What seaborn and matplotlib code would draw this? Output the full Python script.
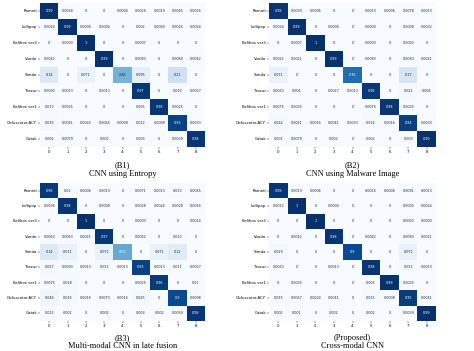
import numpy as np
import matplotlib
matplotlib.use("Agg")
import matplotlib.pyplot as plt
import seaborn as sns

# class names (rows) and column indices
classes = ['Ramnit', 'Lollipop', 'Kelihos ver3', 'Vundo', 'Simda', 'Tracur',
           'Kelihos ver1', 'Obfuscator.ACY', 'Gatak']
col_labels = [str(i) for i in range(9)]

cm_entropy = [
    [0.99, 0.0058, 0, 0, 0.0006, 0.0026, 0.0019, 0.0045, 0.0026],
    [0.0024, 0.99, 0.0004, 0.0004, 0, 0.002, 0.0004, 0.0016, 0.0024],
    [0, 0.0003, 1, 0, 0, 0.0007, 0, 0, 0],
    [0.0042, 0, 0, 0.99, 0, 0.0083, 0, 0.0084, 0.0042],
    [0.14, 0, 0.071, 0, 0.48, 0.095, 0, 0.21, 0],
    [0.0093, 0.0013, 0, 0.0013, 0, 0.97, 0, 0.016, 0.0027],
    [0.013, 0.0025, 0, 0, 0, 0.005, 0.98, 0.0025, 0],
    [0.035, 0.0041, 0.0024, 0.0065, 0.0008, 0.012, 0.0008, 0.93, 0.0033],
    [0.002, 0.0079, 0, 0.002, 0, 0.003, 0, 0.0039, 0.98],
]

cm_image = [
    [0.98, 0.0039, 0.0006, 0, 0, 0.0013, 0.0006, 0.0078, 0.0013],
    [0.0024, 0.99, 0, 0.0004, 0, 0.0004, 0, 0.0008, 0.0032],
    [0, 0.0007, 1, 0, 0, 0.0003, 0, 0.0003, 0],
    [0.0021, 0.0021, 0, 0.99, 0, 0.0083, 0, 0.0083, 0.0021],
    [0.071, 0, 0, 0, 0.76, 0, 0, 0.17, 0],
    [0.0053, 0.004, 0, 0.0027, 0.0013, 0.96, 0, 0.021, 0.004],
    [0.0075, 0.0025, 0, 0, 0, 0.0075, 0.98, 0.0025, 0],
    [0.024, 0.0041, 0.0016, 0.0041, 0.0033, 0.014, 0.0016, 0.94, 0.0033],
    [0.001, 0.0079, 0, 0.002, 0, 0.002, 0, 0.003, 0.99],
]

cm_late = [
    [0.96, 0.01, 0.0006, 0.0013, 0, 0.0071, 0.0013, 0.013, 0.0045],
    [0.0036, 0.98, 0, 0.0008, 0, 0.0028, 0.0024, 0.0028, 0.0044],
    [0, 0, 1, 0, 0, 0.0003, 0, 0, 0.0014],
    [0.0063, 0.0063, 0.0021, 0.97, 0, 0.0042, 0, 0.013, 0],
    [0.14, 0.071, 0, 0.071, 0.52, 0, 0.071, 0.12, 0],
    [0.027, 0.0093, 0.0013, 0.012, 0.0013, 0.93, 0.0013, 0.011, 0.0027],
    [0.0075, 0.018, 0, 0, 0, 0.0025, 0.96, 0, 0.01],
    [0.046, 0.016, 0.0016, 0.0073, 0.0016, 0.025, 0, 0.9, 0.0098],
    [0.012, 0.001, 0, 0.002, 0, 0.003, 0.002, 0.0039, 0.98],
]

cm_cross = [
    [0.98, 0.0013, 0.0006, 0, 0, 0.0026, 0.0006, 0.0091, 0.0013],
    [0.0012, 1, 0, 0.0004, 0, 0, 0, 0.0004, 0.0024],
    [0, 0, 1, 0, 0, 0, 0, 0.0003, 0.0003],
    [0, 0.0042, 0, 0.98, 0, 0.0062, 0, 0.0083, 0.0021],
    [0.029, 0, 0, 0, 0.9, 0, 0, 0.071, 0],
    [0.0053, 0, 0, 0.0013, 0, 0.98, 0, 0.012, 0.0013],
    [0, 0.0025, 0, 0, 0, 0.005, 0.99, 0.0025, 0],
    [0.015, 0.0057, 0.0024, 0.0041, 0, 0.015, 0.0008, 0.95, 0.0041],
    [0.002, 0.001, 0, 0.002, 0, 0.002, 0, 0.0039, 0.99],
]

captions = [('(B1)', 'CNN using Entropy'),
            ('(B2)', 'CNN using Malware Image'),
            ('(B3)', 'Multi-modal CNN in late fusion'),
            ('(Proposed)', 'Cross-modal CNN')]

W, H = 474, 351
fig = plt.figure(figsize=(W / 100, H / 100), dpi=100)

# pixel boxes (left, top, right, bottom) of each heatmap
boxes = [(40, 3, 205, 147), (269, 3, 436, 147),
         (40, 183, 205, 321), (269, 183, 436, 321)]
cap_offsets = [(18, 27), (18, 27), (17, 25), (17, 25)]

for cm, box, cap, off in zip([cm_entropy, cm_image, cm_late, cm_cross], boxes, captions, cap_offsets):
    l, t, r, b = box
    ax = fig.add_axes([l / W, 1 - b / H, (r - l) / W, (b - t) / H])
    sns.heatmap(np.array(cm), ax=ax, cmap='Blues', vmin=0, vmax=1, cbar=False,
                annot=True, fmt='.2g', annot_kws={'fontsize': 2.4},
                xticklabels=col_labels, yticklabels=classes)
    ax.tick_params(axis='both', labelsize=2.8, length=1.2, width=0.3, pad=0.8)
    ax.set_yticklabels(classes, rotation=0)
    cx = (l + r) / 2 / W
    fig.text(cx, 1 - (b + off[0]) / H, cap[0], ha='center', va='center',
             family='Liberation Serif', fontsize=6)
    fig.text(cx, 1 - (b + off[1]) / H, cap[1], ha='center', va='center',
             family='Liberation Serif', fontsize=6)

fig.savefig('out.png', dpi=100)
